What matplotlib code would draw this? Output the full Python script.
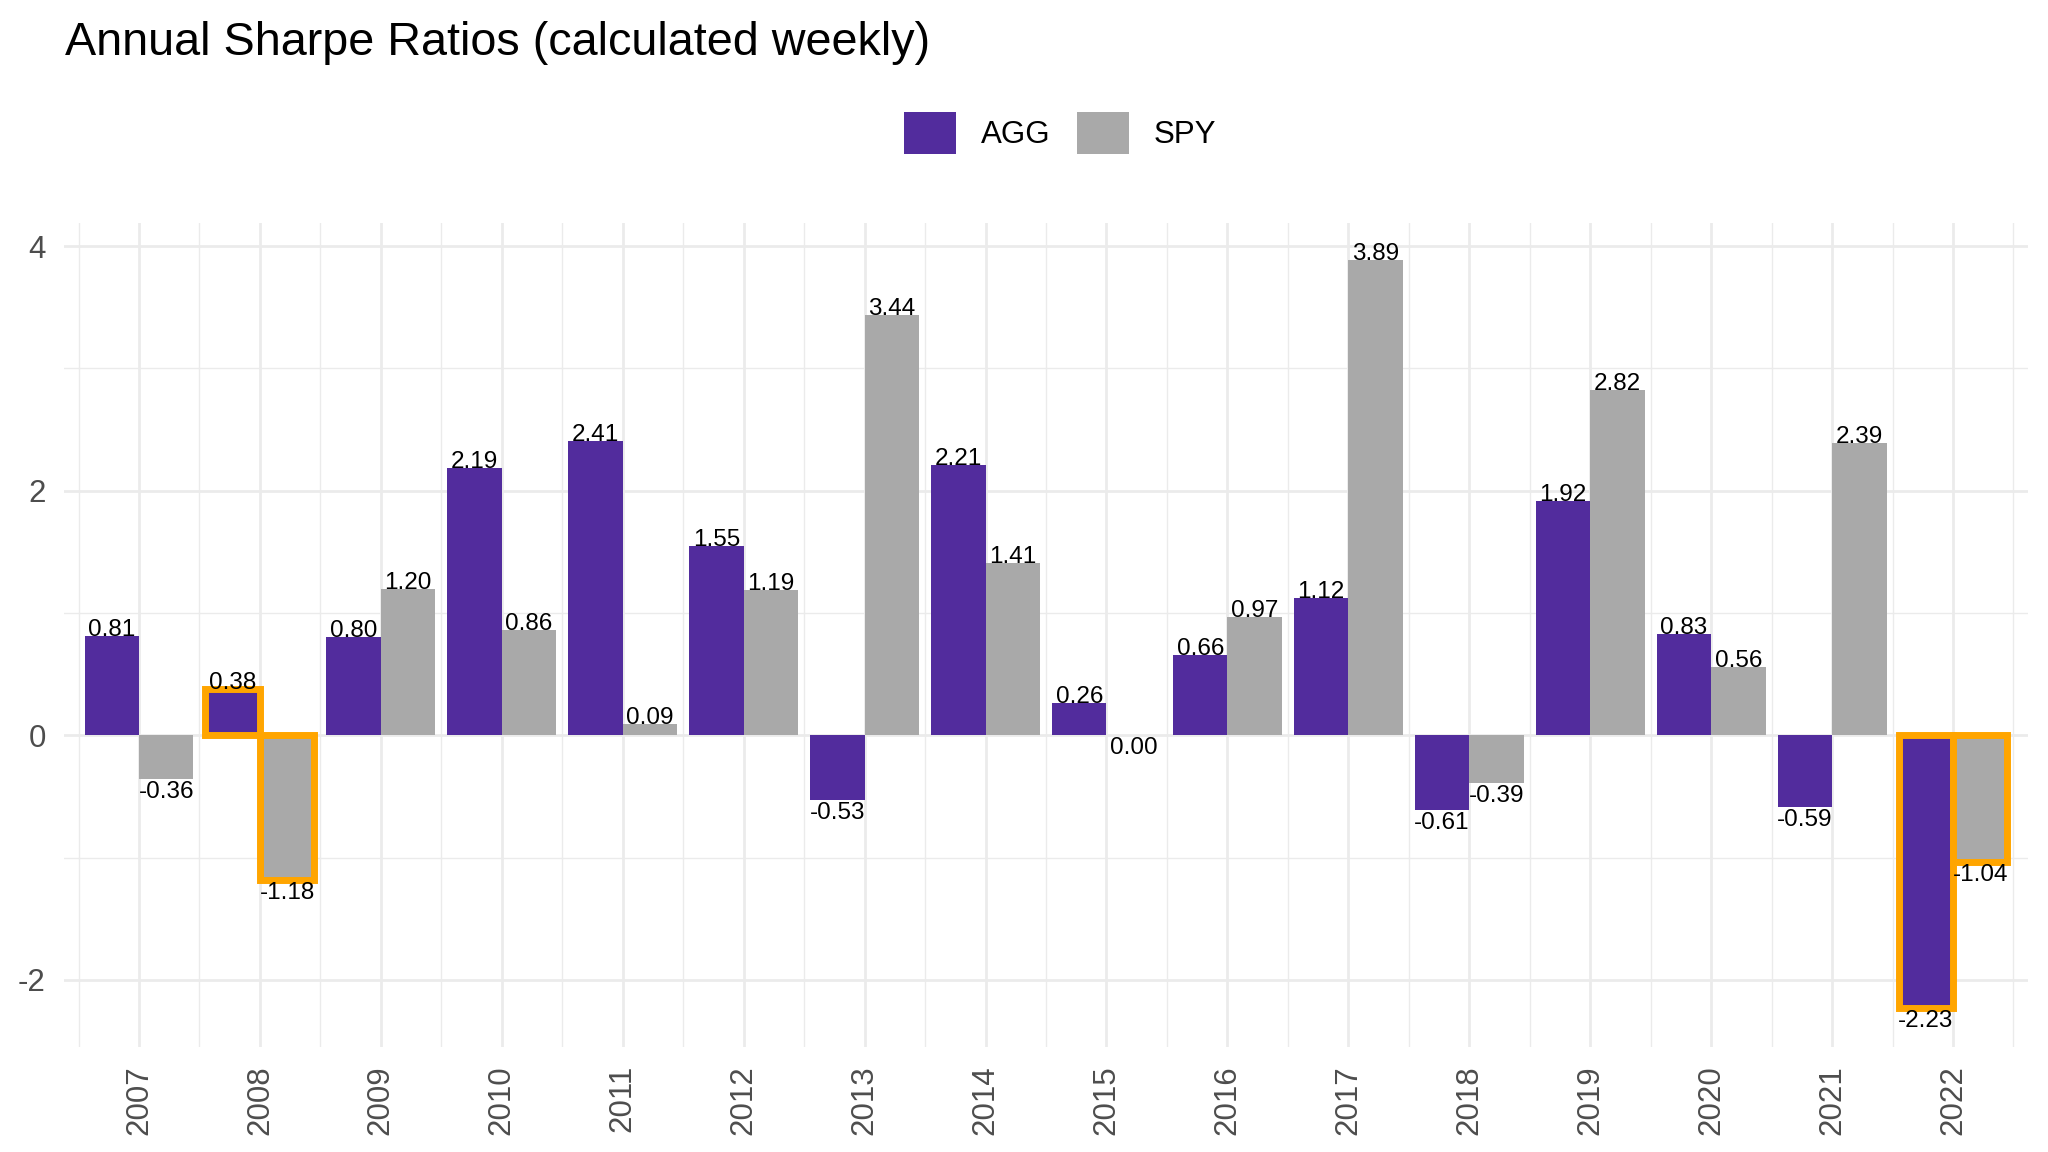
import numpy as np
import matplotlib
matplotlib.use("Agg")
import matplotlib.pyplot as plt

plt.rcParams['font.family'] = ['Liberation Sans', 'DejaVu Sans']

years = ['2007', '2008', '2009', '2010', '2011', '2012', '2013', '2014',
         '2015', '2016', '2017', '2018', '2019', '2020', '2021', '2022']
agg = [0.81, 0.38, 0.80, 2.19, 2.41, 1.55, -0.53, 2.21,
       0.26, 0.66, 1.12, -0.61, 1.92, 0.83, -0.59, -2.23]
spy = [-0.36, -1.18, 1.20, 0.86, 0.09, 1.19, 3.44, 1.41,
       0.00, 0.97, 3.89, -0.39, 2.82, 0.56, 2.39, -1.04]
highlight = ['2008', '2022']

purple = '#522C9D'
grey = '#A9A9A9'
orange = '#FFA500'

fig = plt.figure(figsize=(20.48, 11.52), dpi=100)
ax = fig.add_axes([64 / 2048, 1 - 1047 / 1152, (2028 - 64) / 2048, (1047 - 223) / 1152])

x = np.arange(len(years))
w = 0.45
edge = [orange if y in highlight else 'none' for y in years]
lw = [5 if y in highlight else 0 for y in years]

b1 = ax.bar(x - w / 2, agg, width=w, color=purple, edgecolor=edge, linewidth=lw, label='AGG', zorder=2)
b2 = ax.bar(x + w / 2, spy, width=w, color=grey, edgecolor=edge, linewidth=lw, label='SPY', zorder=2)

# value labels: above for positive, below for zero/negative
for xs, vals in [(x - w / 2, agg), (x + w / 2, spy)]:
    for xi, v in zip(xs, vals):
        if v > 0:
            ax.annotate(f"{v:.2f}", (xi, v), xytext=(0, 0), textcoords='offset points',
                        ha='center', va='baseline', fontsize=17.5, color='black', zorder=3)
        else:
            ax.annotate(f"{v:.2f}", (xi, v), xytext=(0, -1.5), textcoords='offset points',
                        ha='center', va='top', fontsize=17.5, color='black', zorder=3)

ax.set_xlim(-0.62, len(years) - 1 + 0.62)
ax.set_ylim(-2.55, 4.19)
ax.set_xticks(x)
ax.set_xticklabels(years, rotation=90, ha='center', va='top')
ax.set_xticks(np.arange(len(years) + 1) - 0.5, minor=True)
ax.set_yticks([-2, 0, 2, 4])
ax.set_yticklabels(['-2', '0', '2', '4'])
ax.set_yticks([-1, 1, 3], minor=True)

ax.tick_params(axis='both', which='both', length=0, labelsize=22.5, labelcolor='#4D4D4D', pad=13)
ax.grid(which='major', color='#EBEBEB', linewidth=2)
ax.grid(which='minor', color='#EBEBEB', linewidth=1)
ax.set_axisbelow(True)
for s in ax.spines.values():
    s.set_visible(False)

fig.text(65 / 2048, 1 - 55 / 1152, 'Annual Sharpe Ratios (calculated weekly)',
         fontsize=33.7, color='black', ha='left', va='baseline')

leg = ax.legend(handles=[b1, b2], labels=['AGG', 'SPY'], loc='center',
                bbox_to_anchor=(1060 / 2048, 1 - 133 / 1152), bbox_transform=fig.transFigure,
                ncol=2, frameon=False, fontsize=22.5, handlelength=1.65, handleheight=1.65,
                handletextpad=0.8, columnspacing=0.86, borderpad=0)
for h in leg.legend_handles:
    h.set_edgecolor('none')
    h.set_linewidth(0)

fig.savefig('out.png', dpi=100, facecolor='white')
